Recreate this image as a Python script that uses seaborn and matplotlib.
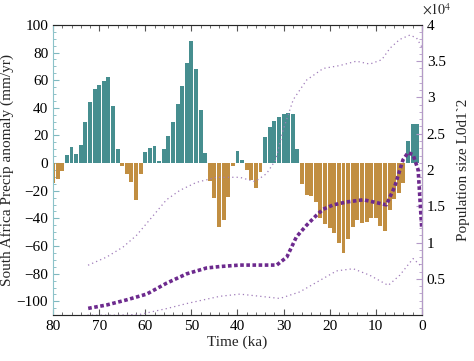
import numpy as np
import pandas as pd
import matplotlib
matplotlib.use("Agg")
import matplotlib.pyplot as plt
import seaborn as sns
from matplotlib.ticker import MultipleLocator

# precipitation anomaly bars (mm/yr), one per ka
bar_ka = list(range(80, 0, -1))
bar_precip = [
    -14.5, -11.6, -6, 6, 12, 6.8, 12.8, 29.5, 44, 53.6,
    56.5, 59.4, 62.3, 41.5, 10.4, -2.4, -8.2, -13.3, -26.6, -8.2,
    8.2, 10.6, 12.6, 1.7, 10.4, 19.8, 29.5, 43, 55.6, 72.5,
    88, 68, 38.6, 7, -12.6, -25.4, -46.4, -41, -24.6, -2.4,
    8.5, 2.4, -5.3, -12, -18, -6.3, 18.8, 25.8, 30.4, 33.3,
    35.7, 36.2, 35.3, 10.4, -15, -23.2, -23.7, -27.8, -39.9, -44,
    -47, -50.7, -58, -65.2, -55, -45.9, -41, -43, -42.5, -39.6,
    -40, -45.4, -48.8, -33.8, -26, -21.7, -14.5, 16, 28.5, 28.5,
]

# population size (x 10^4): median and bounds
med_ka = [72.7, 68.4, 64.1, 59.7, 55.4, 51.0, 46.7, 43.8, 39.5, 35.1, 31.5, 29.3,
          27.2, 25.0, 22.8, 21.4, 19.2, 16.3, 12.7, 9.8, 7.7, 5.9, 4.1, 3.0, 1.9, 0.8, 0.05]
med_pop = [0.09, 0.14, 0.21, 0.29, 0.44, 0.57, 0.65, 0.67, 0.69, 0.69, 0.69, 0.80,
           1.08, 1.24, 1.38, 1.46, 1.52, 1.56, 1.59, 1.55, 1.52, 1.77, 2.14, 2.24, 2.21, 2.0, 1.22]

up_ka = [72.7, 68.4, 64.8, 61.9, 58.3, 55.4, 52.5, 48.9, 44.5, 39.5, 36.2, 33.7, 31.7,
         30.1, 27.9, 25.0, 21.4, 17.8, 14.2, 11.3, 8.7, 6.9, 4.8, 2.6, 1.15, 0.05]
up_pop = [0.68, 0.80, 0.94, 1.10, 1.37, 1.59, 1.72, 1.83, 1.90, 1.90, 1.84, 1.95, 2.14,
          2.55, 2.97, 3.24, 3.40, 3.44, 3.50, 3.46, 3.52, 3.68, 3.80, 3.86, 3.82, 3.70]

low_ka = [72.7, 66.0, 61.2, 55.4, 51.0, 46.7, 43.8, 39.5, 35.1, 30.8, 26.5, 22.1,
          18.5, 14.9, 11.3, 7.3, 4.8, 1.9, 0.4]
low_pop = [0.0, 0.0, 0.01, 0.09, 0.16, 0.22, 0.26, 0.29, 0.26, 0.23, 0.32, 0.48,
           0.61, 0.64, 0.55, 0.41, 0.55, 0.78, 0.69]

TEAL = "#3a9a9b"
ORANGE = "#d6922c"
PURPLE = "#6d2a8e"
LIGHT_PURPLE = "#a07cba"

sns.set_style("ticks")
plt.rcParams["font.family"] = ["Liberation Serif", "DejaVu Serif"]
plt.rcParams["mathtext.fontset"] = "stix"

fig = plt.figure(figsize=(4.74, 3.61), dpi=100)
ax = fig.add_axes([0.112, 0.127, 0.778, 0.804])

df = pd.DataFrame({"ka": bar_ka, "precip": bar_precip})
df["sign"] = np.where(df["precip"] >= 0, "pos", "neg")

sns.barplot(data=df, x="ka", y="precip", hue="sign", native_scale=True,
            palette={"pos": TEAL, "neg": ORANGE}, dodge=False, width=0.85,
            edgecolor="none", legend=False, ax=ax)

ax.set_xlim(80, 0)
ax.set_ylim(-110, 100)
ax.set_xticks(range(80, -1, -10))
ax.xaxis.set_minor_locator(MultipleLocator(2))
ax.set_yticks(range(-100, 101, 20))
ax.yaxis.set_minor_locator(MultipleLocator(5))
ax.set_xlabel("Time (ka)", fontsize=11, labelpad=2)
ax.set_ylabel("South Africa Precip anomaly (mm/yr)", fontsize=11, labelpad=2)
ax.tick_params(axis="both", which="both", direction="in", labelsize=11,
               top=True, colors="#333333")
ax.tick_params(axis="y", which="both", colors="#7fb8c0", labelcolor="black")
ax.tick_params(axis="x", which="both", colors="#555555", labelcolor="black")
ax.tick_params(which="major", length=4)
ax.tick_params(which="minor", length=2)
for side in ["top", "bottom"]:
    ax.spines[side].set_color("#888888")
ax.spines["left"].set_color("#8cc3c9")

ax2 = ax.twinx()
sns.lineplot(x=up_ka, y=up_pop, ax=ax2, color=LIGHT_PURPLE, linewidth=0.9,
             linestyle=(0, (1, 2.5)))
sns.lineplot(x=low_ka, y=low_pop, ax=ax2, color=LIGHT_PURPLE, linewidth=0.9,
             linestyle=(0, (1, 2.5)))
sns.lineplot(x=med_ka, y=med_pop, ax=ax2, color=PURPLE, linewidth=2.6,
             linestyle=(0, (1, 0.7)), dash_capstyle="butt")
ax2.set_xlim(80, 0)
ax2.set_ylim(0, 4)
ax2.set_yticks([0.5, 1, 1.5, 2, 2.5, 3, 3.5, 4])
ax2.set_yticklabels(["0.5", "1", "1.5", "2", "2.5", "3", "3.5", "4"])
ax2.yaxis.set_minor_locator(MultipleLocator(0.1))
ax2.tick_params(axis="y", which="both", direction="in", labelsize=11,
                colors="#b49ac8", labelcolor="black")
ax2.tick_params(which="major", length=4)
ax2.tick_params(which="minor", length=2)
ax2.spines["right"].set_color("#b49ac8")
ax2.spines["left"].set_visible(False)
ax2.set_ylabel("Population size L0d1`2", fontsize=11, labelpad=8)
ax2.text(1.0, 1.036, r"$\times10^{4}$", transform=ax2.transAxes,
         fontsize=10, ha="left", va="baseline")

fig.savefig("out.png", dpi=100)
